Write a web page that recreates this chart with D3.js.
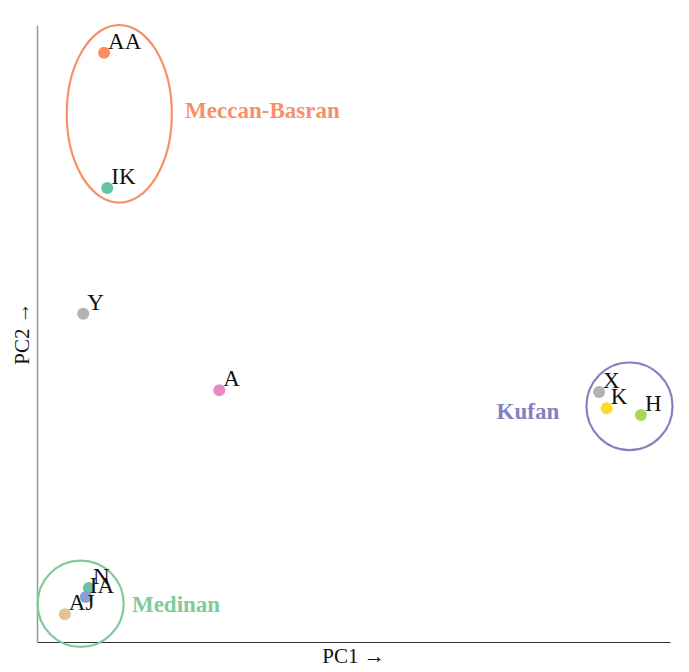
<!DOCTYPE html>
<html>
<head>
<meta charset="utf-8">
<script src="https://cdn.jsdelivr.net/npm/d3@7"></script>
<style>
  html, body { margin: 0; padding: 0; background: #fff; }
  svg { display: block; }
</style>
</head>
<body>
<svg id="chart" width="689" height="672"></svg>
<script>
// ---- data ----
const names = ["AA", "IK", "Y", "A", "X", "K", "H", "N", "IA", "AJ"];
const pc1   = [10.6, 11.1, 7.3, 28.8, 88.8, 90.0, 95.4, 8.2, 7.7, 4.4];
const pc2   = [95.5, 73.6, 53.2, 40.8, 40.5, 37.9, 36.8, 8.75, 7.3, 4.5];
const pointColors = ["#fc8d62", "#66c2a5", "#b3b3b3", "#e78ac3", "#b3b3b3", "#ffd92f", "#a6d854", "#66c2a5", "#8da0cb", "#e5c494"];

const groupNames  = ["Meccan-Basran", "Kufan", "Medinan"];
const groupCx     = [13.0, 93.6, 6.9];
const groupCy     = [85.6, 38.2, 6.2];
const groupRx     = [8.3, 6.8, 6.8];
const groupRy     = [14.4, 7.1, 7.0];
const groupColors = ["#f7906a", "#8680c0", "#7fcb9a"];
const groupLabelX = [23.4, 72.6, 15.0];
const groupLabelY = [84.9, 36.2, 4.9];

const xDomain = [0, 100];
const yDomain = [0, 100];

const FONT = "'Liberation Serif', 'Times New Roman', Times, serif";

// ---- chart ----
const svg = d3.select("#chart");
const margin = { left: 37, right: 19, top: 25, bottom: 30 };
const W = 689, H = 672;
const x = d3.scaleLinear().domain(xDomain).range([margin.left, W - margin.right]);
const y = d3.scaleLinear().domain(yDomain).range([H - margin.bottom, margin.top]);

// axes (lines only)
svg.append("g")
  .attr("transform", `translate(0,${y(0)})`)
  .call(d3.axisBottom(x).ticks(0).tickSize(0).tickFormat(""))
  .call(g => g.select(".domain").attr("stroke", "#333").attr("stroke-width", 1.2));
svg.append("g")
  .attr("transform", `translate(${x(0)},0)`)
  .call(d3.axisLeft(y).ticks(0).tickSize(0).tickFormat(""))
  .call(g => g.select(".domain").attr("stroke", "#999").attr("stroke-width", 1.5));

// axis titles
svg.append("text")
  .attr("x", (x(0) + x(100)) / 2)
  .attr("y", 663)
  .attr("text-anchor", "middle")
  .attr("font-family", FONT)
  .attr("font-size", 21)
  .attr("fill", "#111")
  .text("PC1 →");
svg.append("text")
  .attr("transform", `translate(29,${(y(0) + y(100)) / 2}) rotate(-90)`)
  .attr("text-anchor", "middle")
  .attr("font-family", FONT)
  .attr("font-size", 21)
  .attr("fill", "#111")
  .text("PC2 →");

// group ellipses
const groups = groupNames.map((n, i) => ({
  name: n, cx: groupCx[i], cy: groupCy[i], rx: groupRx[i], ry: groupRy[i],
  color: groupColors[i], lx: groupLabelX[i], ly: groupLabelY[i]
}));
const kx = (W - margin.left - margin.right) / (xDomain[1] - xDomain[0]);
const ky = (H - margin.top - margin.bottom) / (yDomain[1] - yDomain[0]);

svg.append("g").selectAll("ellipse").data(groups).join("ellipse")
  .attr("cx", d => x(d.cx))
  .attr("cy", d => y(d.cy))
  .attr("rx", d => d.rx * kx)
  .attr("ry", d => d.ry * ky)
  .attr("fill", "none")
  .attr("stroke", d => d.color)
  .attr("stroke-width", 2.2);

svg.append("g").selectAll("text").data(groups).join("text")
  .attr("x", d => x(d.lx))
  .attr("y", d => y(d.ly))
  .attr("font-family", FONT)
  .attr("font-weight", "bold")
  .attr("font-size", 23)
  .attr("fill", d => d.color)
  .text(d => d.name);

// points
const pts = names.map((n, i) => ({ name: n, x: pc1[i], y: pc2[i], color: pointColors[i] }));
svg.append("g").selectAll("circle").data(pts).join("circle")
  .attr("cx", d => x(d.x))
  .attr("cy", d => y(d.y))
  .attr("r", 6)
  .attr("fill", d => d.color);

svg.append("g").selectAll("text").data(pts).join("text")
  .attr("x", d => x(d.x) + 4)
  .attr("y", d => y(d.y) - 4)
  .attr("font-family", FONT)
  .attr("font-size", 23)
  .attr("fill", "#111")
  .text(d => d.name);
</script>
</body>
</html>
